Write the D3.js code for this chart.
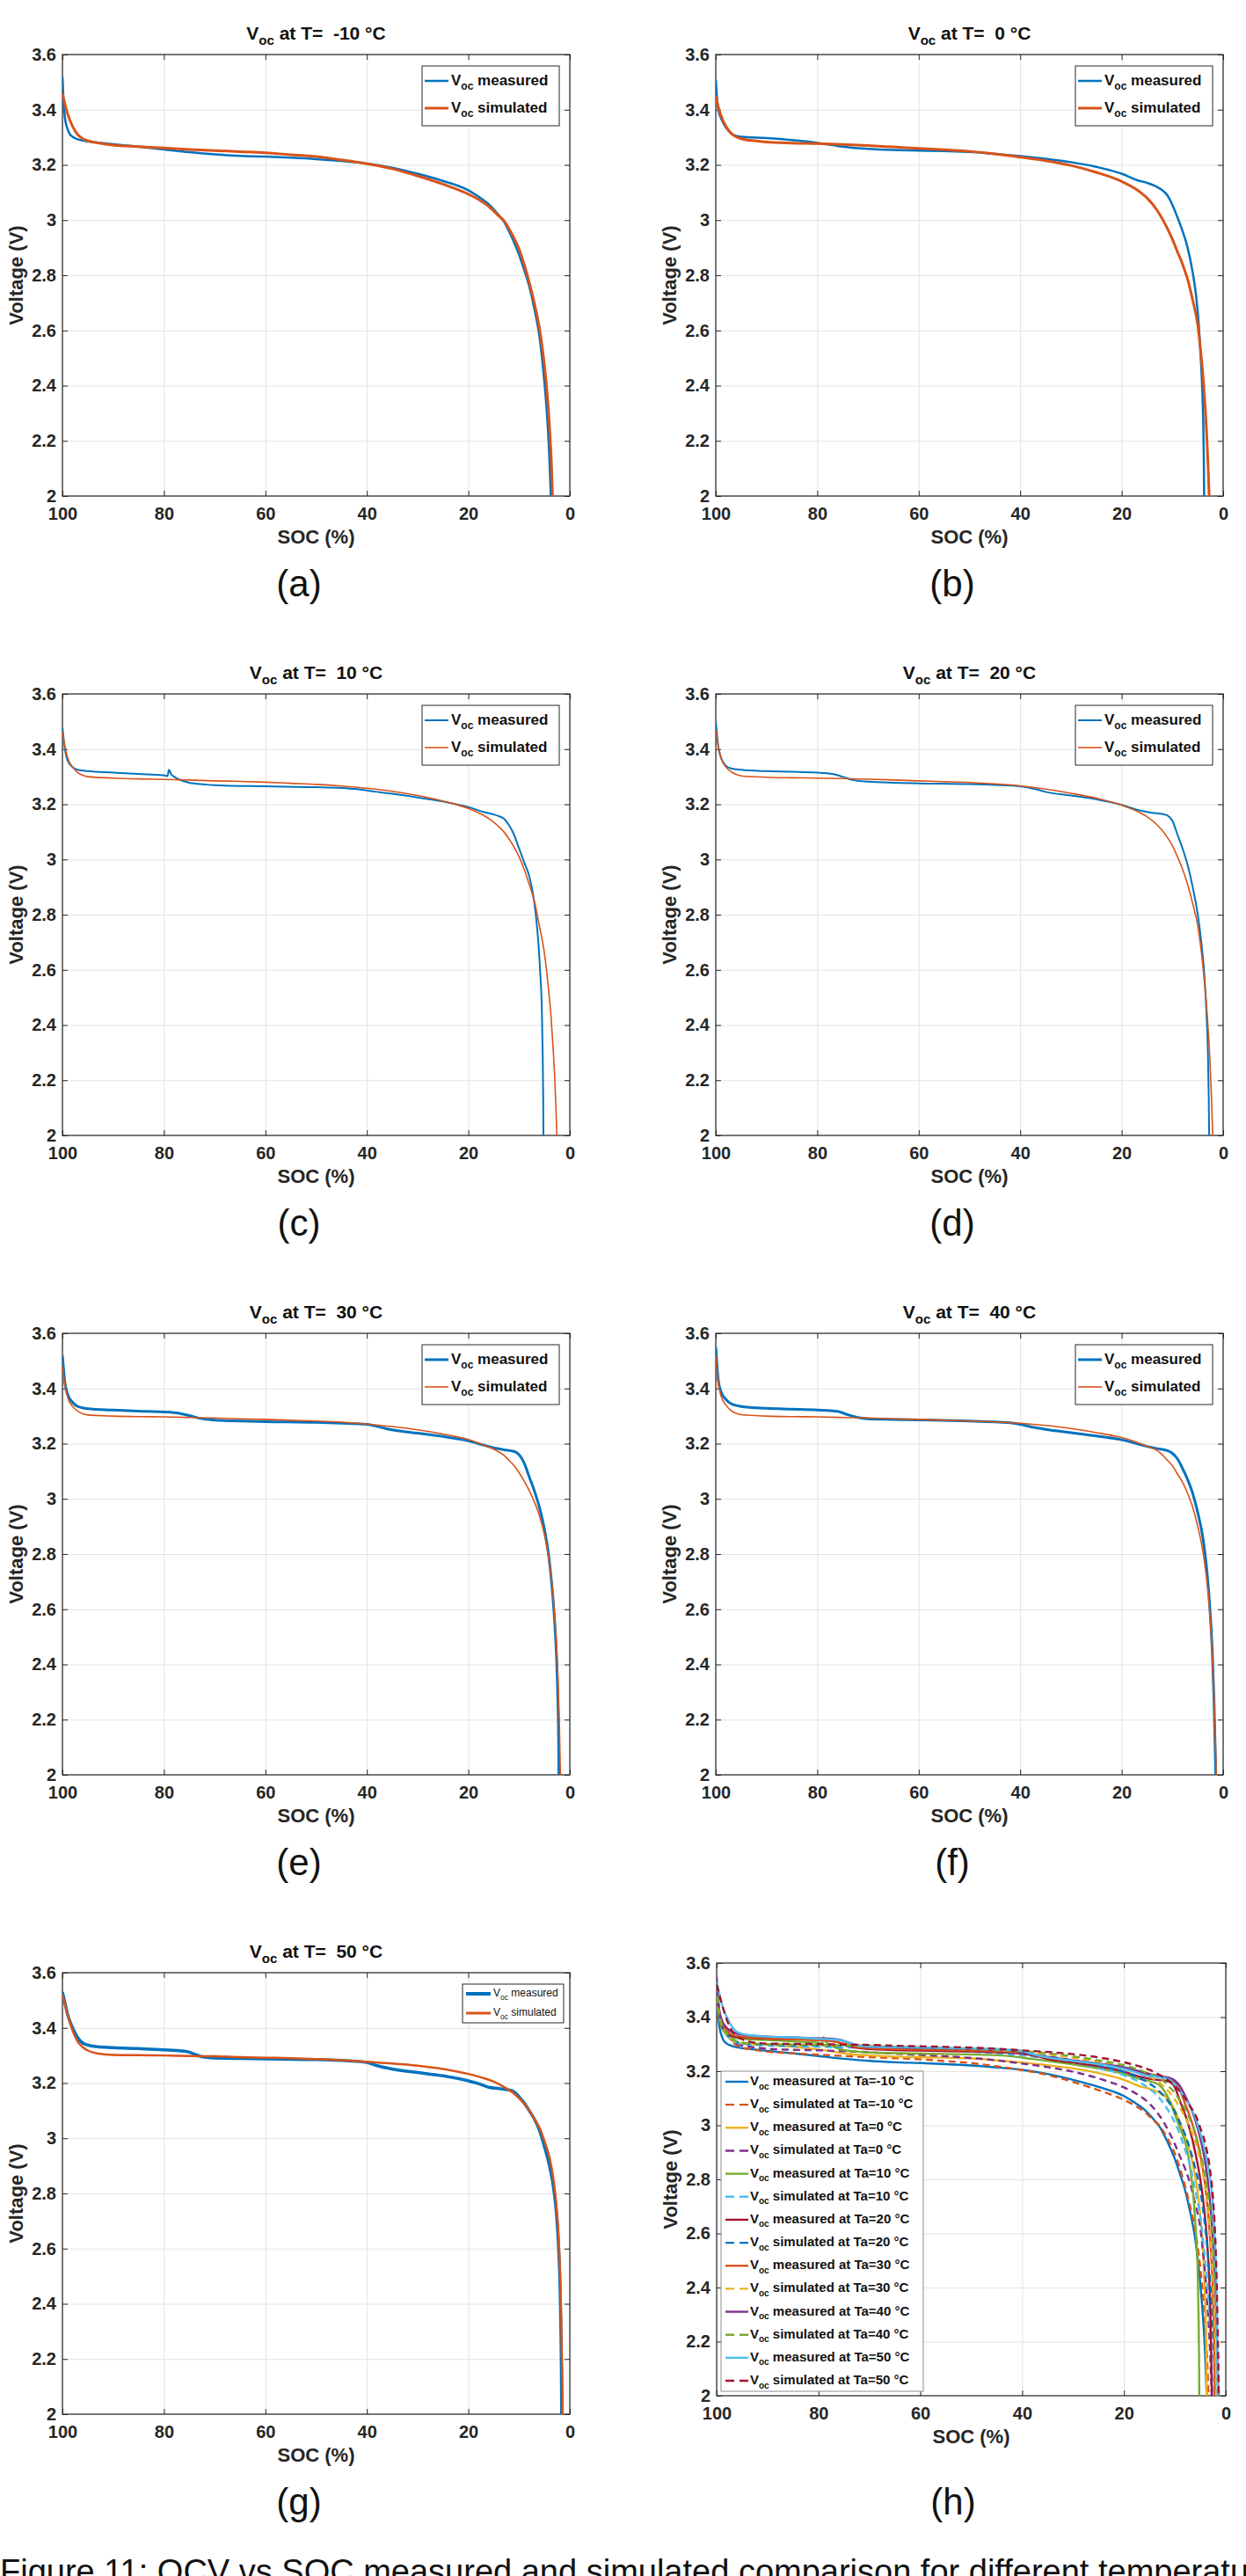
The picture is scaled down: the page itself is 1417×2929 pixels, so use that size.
<!DOCTYPE html>
<html>
<head>
<meta charset="utf-8">
<script src="https://cdn.jsdelivr.net/npm/d3@7"></script>
<style>
  body { margin: 0; background: #fff; }
  svg { display: block; }
  text { font-family: "Liberation Sans", Arial, sans-serif; }
</style>
</head>
<body>
<svg id="fig"></svg>
<script>
// ---- data: [SOC %, Voc V] ----
var xTicks = [100, 80, 60, 40, 20, 0];
var yTicks = [2, 2.2, 2.4, 2.6, 2.8, 3, 3.2, 3.4, 3.6];
var temps = ["-10", "0", "10", "20", "30", "40", "50"];

var meas_m10 = [[100,3.52],[99.8,3.44],[99.5,3.37],[99,3.33],[98.5,3.31],[98,3.302],[97,3.293],[96,3.288],[95,3.285],[92,3.279],[90,3.275],[85,3.266],[80,3.256],[75,3.246],[70,3.238],[65,3.233],[60,3.23],[55,3.226],[50,3.221],[45,3.214],[40,3.205],[35,3.19],[30,3.168],[25,3.142],[20,3.108],[18,3.085],[16,3.058],[14,3.018],[13,2.995],[12,2.96],[11,2.92],[10,2.875],[9,2.82],[8,2.76],[7,2.68],[6,2.58],[5.3,2.47],[4.8,2.37],[4.4,2.27],[4.1,2.17],[3.9,2.08],[3.75,2.0]];
var sim_m10 = [[100,3.46],[99.5,3.42],[99,3.386],[98,3.34],[97,3.31],[96,3.295],[95,3.287],[93,3.28],[90,3.272],[85,3.266],[80,3.261],[75,3.256],[70,3.252],[65,3.248],[60,3.244],[55,3.237],[50,3.23],[45,3.218],[40,3.204],[35,3.186],[30,3.16],[25,3.13],[20,3.094],[18,3.075],[16,3.05],[14,3.015],[13,2.998],[12,2.97],[11,2.935],[10,2.895],[9,2.84],[8,2.775],[7,2.7],[6,2.61],[5.3,2.52],[4.7,2.42],[4.2,2.31],[3.9,2.22],[3.6,2.11],[3.4,2.0]];

var meas_0 = [[100,3.51],[99.7,3.43],[99.3,3.385],[99,3.37],[98,3.335],[97,3.315],[96,3.305],[95,3.302],[90,3.297],[85,3.29],[80,3.28],[77,3.272],[75,3.266],[70,3.258],[65,3.254],[60,3.252],[55,3.25],[50,3.247],[45,3.24],[40,3.232],[35,3.222],[30,3.21],[25,3.193],[20,3.168],[17,3.145],[15,3.135],[13,3.12],[12,3.108],[11,3.09],[10,3.055],[9,3.01],[8,2.96],[7,2.9],[6,2.81],[5.3,2.72],[4.8,2.62],[4.4,2.5],[4.1,2.38],[3.9,2.25],[3.8,2.12],[3.75,2.0]];
var sim_0 = [[100,3.45],[99.5,3.41],[99,3.38],[98,3.34],[97,3.315],[96,3.302],[95,3.295],[92,3.287],[90,3.283],[85,3.279],[80,3.277],[75,3.274],[70,3.27],[65,3.265],[60,3.26],[55,3.255],[50,3.249],[45,3.24],[40,3.228],[35,3.215],[30,3.198],[25,3.173],[20,3.14],[17,3.11],[15,3.08],[13,3.035],[12,3.005],[11,2.97],[10,2.93],[9,2.885],[8,2.84],[7,2.785],[6,2.71],[5,2.62],[4.4,2.52],[3.9,2.42],[3.5,2.31],[3.2,2.21],[2.95,2.1],[2.75,2.0]];

var meas_10 = [[100,3.48],[99.5,3.4],[99,3.36],[98,3.335],[97,3.325],[95,3.32],[90,3.315],[85,3.31],[80,3.305],[79.3,3.302],[79,3.325],[78.6,3.31],[78,3.3],[77,3.29],[75,3.278],[72,3.272],[70,3.269],[60,3.265],[50,3.262],[45,3.259],[42,3.255],[38,3.245],[35,3.238],[30,3.225],[25,3.21],[20,3.19],[17,3.172],[15,3.163],[14,3.157],[13,3.148],[12,3.125],[11,3.09],[10,3.04],[9,2.99],[8,2.94],[7.3,2.88],[6.7,2.8],[6.2,2.7],[5.8,2.58],[5.5,2.45],[5.35,2.3],[5.25,2.15],[5.2,2.0]];
var sim_10 = [[100,3.46],[99.5,3.41],[99,3.37],[98,3.335],[97,3.315],[96,3.305],[95,3.3],[90,3.295],[85,3.292],[80,3.29],[75,3.288],[70,3.285],[65,3.283],[60,3.28],[55,3.276],[50,3.272],[45,3.266],[40,3.258],[35,3.247],[30,3.232],[25,3.212],[20,3.185],[17,3.16],[15,3.135],[13,3.1],[12,3.075],[11,3.045],[10,3.01],[9,2.965],[8,2.91],[7,2.85],[6,2.76],[5,2.66],[4.3,2.55],[3.7,2.43],[3.3,2.32],[3.0,2.22],[2.75,2.11],[2.55,2.0]];

var meas_20 = [[100,3.5],[99.5,3.41],[99,3.37],[98,3.34],[97,3.33],[95,3.325],[90,3.32],[85,3.318],[80,3.315],[77,3.31],[75,3.3],[73,3.288],[70,3.282],[65,3.278],[60,3.276],[50,3.273],[45,3.27],[40,3.265],[37,3.255],[35,3.245],[30,3.232],[25,3.218],[20,3.198],[17,3.18],[15,3.172],[13,3.167],[12,3.165],[11,3.16],[10,3.14],[9,3.09],[8,3.04],[7,2.98],[6,2.9],[5,2.8],[4.3,2.7],[3.7,2.58],[3.3,2.45],[3.0,2.3],[2.85,2.15],[2.75,2.0]];
var sim_20 = [[100,3.47],[99.5,3.41],[99,3.37],[98,3.335],[97,3.318],[96,3.308],[95,3.303],[90,3.298],[85,3.296],[80,3.295],[75,3.293],[70,3.291],[65,3.288],[60,3.285],[55,3.282],[50,3.279],[45,3.274],[40,3.267],[35,3.255],[30,3.24],[25,3.222],[20,3.197],[17,3.175],[15,3.155],[13,3.125],[12,3.105],[11,3.08],[10,3.05],[9,3.01],[8,2.965],[7,2.91],[6,2.84],[5,2.76],[4.2,2.65],[3.5,2.52],[3.0,2.4],[2.6,2.27],[2.3,2.14],[2.05,2.0]];

var meas_30 = [[100,3.52],[99.5,3.42],[99,3.38],[98,3.35],[97,3.335],[95,3.327],[90,3.322],[85,3.318],[80,3.315],[77,3.31],[75,3.302],[73,3.292],[70,3.285],[65,3.282],[60,3.28],[50,3.277],[45,3.274],[40,3.27],[37,3.258],[35,3.25],[30,3.238],[25,3.226],[20,3.21],[17,3.195],[15,3.185],[13,3.178],[11,3.172],[10,3.16],[9,3.13],[8,3.08],[7,3.03],[6,2.97],[5,2.89],[4.2,2.8],[3.5,2.68],[3.0,2.56],[2.6,2.42],[2.35,2.27],[2.2,2.12],[2.15,2.0]];
var sim_30 = [[100,3.48],[99.5,3.41],[99,3.37],[98,3.335],[97,3.318],[96,3.308],[95,3.304],[90,3.3],[85,3.298],[80,3.297],[75,3.295],[70,3.293],[65,3.29],[60,3.288],[55,3.285],[50,3.282],[45,3.278],[40,3.271],[35,3.262],[30,3.25],[25,3.235],[20,3.215],[17,3.195],[15,3.18],[13,3.158],[12,3.14],[11,3.12],[10,3.095],[9,3.065],[8,3.03],[7,2.99],[6,2.94],[5,2.87],[4.2,2.79],[3.5,2.69],[3.0,2.58],[2.6,2.46],[2.3,2.33],[2.05,2.18],[1.85,2.0]];

var meas_40 = [[100,3.55],[99.5,3.43],[99,3.39],[98,3.36],[97,3.345],[95,3.335],[90,3.328],[85,3.325],[80,3.322],[76,3.317],[74,3.305],[72,3.295],[70,3.29],[65,3.288],[60,3.286],[50,3.282],[45,3.279],[42,3.276],[40,3.27],[37,3.258],[35,3.252],[30,3.24],[25,3.228],[20,3.214],[17,3.2],[15,3.19],[13,3.182],[11,3.175],[10,3.165],[9,3.145],[8,3.11],[7,3.07],[6,3.02],[5,2.95],[4,2.86],[3.2,2.74],[2.6,2.6],[2.1,2.43],[1.8,2.27],[1.6,2.12],[1.45,2.0]];
var sim_40 = [[100,3.52],[99.5,3.42],[99,3.375],[98,3.34],[97,3.32],[96,3.31],[95,3.305],[90,3.3],[85,3.298],[80,3.297],[75,3.295],[70,3.293],[65,3.29],[60,3.288],[55,3.285],[50,3.282],[45,3.279],[40,3.274],[35,3.266],[30,3.255],[25,3.24],[20,3.222],[17,3.205],[15,3.19],[13,3.175],[12,3.16],[11,3.14],[10,3.12],[9,3.09],[8,3.06],[7,3.02],[6,2.97],[5,2.9],[4,2.81],[3.2,2.7],[2.6,2.58],[2.1,2.42],[1.75,2.25],[1.5,2.1],[1.35,2.0]];

var meas_50 = [[100,3.53],[99.5,3.49],[99,3.45],[98,3.40],[97,3.365],[96,3.345],[95,3.338],[94,3.334],[90,3.328],[85,3.325],[80,3.32],[77,3.317],[75,3.312],[74,3.305],[73,3.298],[72,3.294],[70,3.291],[65,3.289],[60,3.288],[55,3.286],[50,3.285],[45,3.282],[42,3.279],[40,3.275],[38,3.263],[35,3.251],[30,3.238],[25,3.226],[20,3.208],[18,3.198],[16,3.185],[14,3.18],[12,3.175],[11,3.168],[10,3.15],[9,3.128],[8,3.1],[7,3.07],[6,3.03],[5,2.97],[4,2.9],[3.2,2.82],[2.6,2.72],[2.2,2.6],[1.9,2.45],[1.75,2.3],[1.65,2.15],[1.6,2.0]];
var sim_50 = [[100,3.52],[99.5,3.485],[99,3.45],[98,3.39],[97,3.35],[96,3.33],[95,3.318],[93,3.307],[90,3.302],[85,3.301],[80,3.3],[75,3.298],[70,3.297],[65,3.294],[60,3.292],[55,3.29],[50,3.287],[45,3.283],[40,3.277],[35,3.271],[30,3.263],[25,3.251],[20,3.233],[17,3.218],[15,3.205],[13,3.186],[12,3.175],[11,3.162],[10,3.145],[9,3.125],[8,3.1],[7,3.07],[6,3.04],[5,2.99],[4,2.93],[3.2,2.85],[2.6,2.75],[2.2,2.64],[1.9,2.5],[1.7,2.35],[1.55,2.2],[1.45,2.1],[1.4,2.0]];

var measured = [meas_m10, meas_0, meas_10, meas_20, meas_30, meas_40, meas_50];
var simulated = [sim_m10, sim_0, sim_10, sim_20, sim_30, sim_40, sim_50];

// ---- layout / style ----
var W = 1417, H = 2929;
var colLeft = [71, 814], rowTop = [62, 789, 1516, 2243];
var pw = 577, ph = 502;
var blue = "#0072BD", orange = "#D95319";
var hColors = ["#0072BD", "#D95319", "#EDB120", "#7E2F8E", "#77AC30", "#4DBEEE", "#A2142F"];
var lineW = [[2.5, 3], [2.5, 3], [2, 1.6], [2, 1.6], [3, 1.6], [3, 1.6], [3.5, 2.5]];
var letters = "abcdefgh";

var svg = d3.select("#fig").attr("width", W).attr("height", H);
svg.append("rect").attr("width", W).attr("height", H).attr("fill", "#fff");

var fmt = d => String(+d.toFixed(1));

function makeAxes(g, w, h, idx, labelY) {
    var x = d3.scaleLinear().domain([100, 0]).range([0, w]);
    var y = d3.scaleLinear().domain([2, 3.6]).range([h, 0]);

    // grid
    g.append("g")
        .attr("transform", `translate(0,${h})`)
        .call(d3.axisBottom(x).tickValues(xTicks).tickSize(-h).tickFormat(""))
        .call(a => a.select(".domain").remove())
        .call(a => a.selectAll("line").attr("stroke", "#e3e3e3"));
    g.append("g")
        .call(d3.axisLeft(y).tickValues(yTicks).tickSize(-w).tickFormat(""))
        .call(a => a.select(".domain").remove())
        .call(a => a.selectAll("line").attr("stroke", "#e3e3e3"));

    var styleAx = a => {
        a.select(".domain").remove();
        a.selectAll("line").attr("stroke", "#262626");
        a.selectAll("text").attr("fill", "#262626")
            .attr("font-size", 20).attr("font-weight", "bold")
            .attr("font-family", '"Liberation Sans", Arial, sans-serif');
    };
    g.append("g").attr("transform", `translate(0,${h})`)
        .call(d3.axisBottom(x).tickValues(xTicks).tickSize(-6).tickPadding(13).tickFormat(fmt))
        .call(styleAx);
    g.append("g")
        .call(d3.axisTop(x).tickValues(xTicks).tickSize(-6).tickFormat(""))
        .call(styleAx);
    g.append("g")
        .call(d3.axisLeft(y).tickValues(yTicks).tickSize(-6).tickPadding(7).tickFormat(fmt))
        .call(styleAx);
    g.append("g").attr("transform", `translate(${w},0)`)
        .call(d3.axisRight(y).tickValues(yTicks).tickSize(-6).tickFormat(""))
        .call(styleAx);

    g.append("rect").attr("width", w).attr("height", h)
        .attr("fill", "none").attr("stroke", "#262626").attr("stroke-width", 1.2);

    g.append("clipPath").attr("id", "clip" + idx)
        .append("rect").attr("width", w).attr("height", h);

    g.append("text").attr("x", w / 2).attr("y", h + 54)
        .attr("text-anchor", "middle").attr("font-size", 22).attr("font-weight", "bold")
        .attr("fill", "#262626").text("SOC (%)");
    g.append("text").attr("transform", `translate(-45,${h / 2}) rotate(-90)`)
        .attr("text-anchor", "middle").attr("font-size", 22).attr("font-weight", "bold")
        .attr("fill", "#262626").text("Voltage (V)");

    g.append("text").attr("x", 269).attr("y", labelY)
        .attr("text-anchor", "middle").attr("font-size", 42)
        .attr("font-family", "Lato, 'Open Sans', sans-serif").attr("fill", "#111")
        .text("(" + letters[idx] + ")");
    return { x: x, y: y };
}

function vocText(sel, size, sub, rest, weight) {
    sel.attr("font-size", size).attr("font-weight", weight).attr("fill", "#111")
        .style("white-space", "pre");
    sel.append("tspan").text("V");
    sel.append("tspan").attr("font-size", sub).attr("dy", size * 0.3).text("oc");
    sel.append("tspan").attr("dy", -size * 0.3).text(rest);
}

var line = (x, y) => d3.line().x(d => x(d[0])).y(d => y(d[1])).curve(d3.curveMonotoneX);

// ---- panels a-g ----
temps.forEach(function (t, i) {
    var left = colLeft[i % 2], top = rowTop[Math.floor(i / 2)];
    var g = svg.append("g").attr("transform", `translate(${left},${top})`);
    var s = makeAxes(g, pw, ph, i, ph + 114);
    var L = line(s.x, s.y);
    var curves = g.append("g").attr("clip-path", `url(#clip${i})`);
    curves.append("path").datum(measured[i]).attr("d", L).attr("fill", "none")
        .attr("stroke", blue).attr("stroke-width", lineW[i][0]);
    curves.append("path").datum(simulated[i]).attr("d", L).attr("fill", "none")
        .attr("stroke", orange).attr("stroke-width", lineW[i][1]);

    vocText(g.append("text").attr("x", pw / 2).attr("y", -17).attr("text-anchor", "middle"),
        21, 15, " at T=  " + t + " \u00B0C", "bold");

    // legend
    var small = i === 6;
    var lw = small ? 115 : 156, lh = small ? 44 : 68;
    var lg = g.append("g").attr("transform", `translate(${pw - (small ? 7 : 12) - lw},13)`);
    lg.append("rect").attr("width", lw).attr("height", lh).attr("fill", "#fff")
        .attr("stroke", "#262626").attr("stroke-width", 1);
    ["measured", "simulated"].forEach(function (name, k) {
        var cy = small ? 11 + k * 22 : 17 + k * 31;
        lg.append("line").attr("x1", small ? 4 : 3).attr("x2", small ? 32 : 30)
            .attr("y1", cy).attr("y2", cy)
            .attr("stroke", k ? orange : blue).attr("stroke-width", lineW[i][k] + (small ? 0.5 : 0));
        vocText(lg.append("text").attr("x", small ? 35 : 33).attr("y", cy + (small ? 3 : 5)),
            small ? 12 : 17, small ? 8.5 : 12, " " + name, small ? "normal" : "bold");
    });
});

// ---- panel h: all temperatures ----
(function () {
    var hl = 815, ht = 2232, hw = 579, hh = 492;
    var g = svg.append("g").attr("transform", `translate(${hl},${ht})`);
    var s = makeAxes(g, hw, hh, 7, rowTop[3] + ph + 114 - ht);
    var L = line(s.x, s.y);
    var curves = g.append("g").attr("clip-path", "url(#clip7)");
    var entries = [];
    temps.forEach(function (t, i) {
        entries.push({ data: measured[i], color: hColors[(2 * i) % 7], dash: null, label: " measured at Ta=" + t + " \u00B0C" });
        entries.push({ data: simulated[i], color: hColors[(2 * i + 1) % 7], dash: "8,5", label: " simulated at Ta=" + t + " \u00B0C" });
    });
    curves.selectAll("path").data(entries).join("path")
        .attr("d", d => L(d.data)).attr("fill", "none")
        .attr("stroke", d => d.color).attr("stroke-width", 2.4)
        .attr("stroke-dasharray", d => d.dash);

    var lgTop = Math.round(hh * 0.25), lgH = Math.round(hh * 0.739);
    var lg = g.append("g").attr("transform", `translate(5,${lgTop})`);
    lg.append("rect").attr("width", 230).attr("height", lgH).attr("fill", "#fff")
        .attr("stroke", "#8c8c8c").attr("stroke-width", 1);
    var step = (lgH - 24) / 13;
    entries.forEach(function (e, k) {
        var cy = 12 + k * step;
        lg.append("line").attr("x1", 5).attr("x2", 31).attr("y1", cy).attr("y2", cy)
            .attr("stroke", e.color).attr("stroke-width", 2.4).attr("stroke-dasharray", e.dash ? "10,6" : null);
        vocText(lg.append("text").attr("x", 33).attr("y", cy + 4), 15, 10, e.label, "bold");
    });
})();

// caption (cut by the page edge, as in the source)
svg.append("text").attr("x", 0).attr("y", 2937)
    .attr("font-family", '"Liberation Serif", "Times New Roman", serif')
    .attr("font-size", 38).attr("fill", "#111")
    .text("Figure 11: OCV vs SOC measured and simulated comparison for different temperatures");
</script>
</body>
</html>
